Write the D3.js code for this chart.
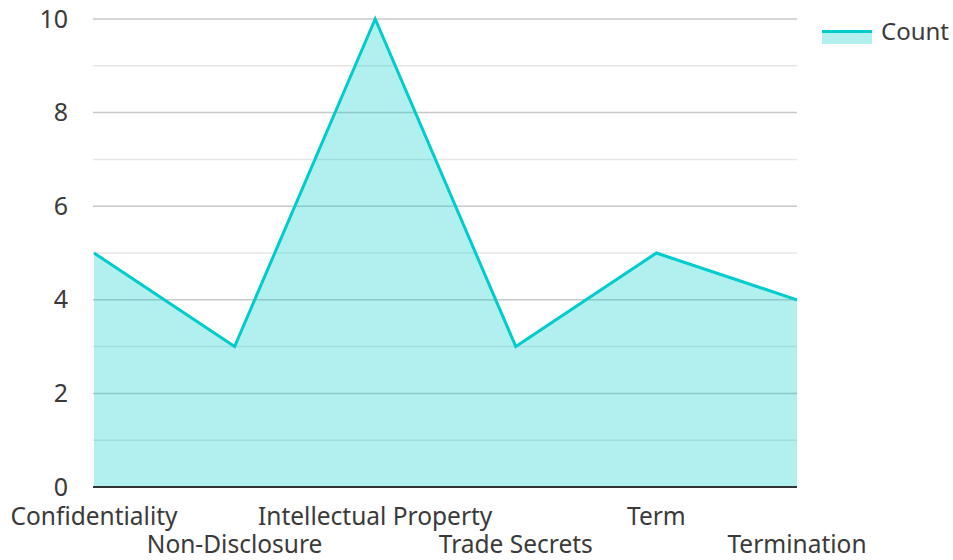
<!DOCTYPE html>
<html>
<head>
<meta charset="utf-8">
<script src="https://cdn.jsdelivr.net/npm/d3@7"></script>
<style>
  body { margin: 0; background: #fff; }
  text { font-family: "Noto Sans", sans-serif; fill: #3a3a3a; }
</style>
</head>
<body>
<svg id="canvas"></svg>
<script>
let categories = ['Confidentiality', 'Non-Disclosure', 'Intellectual Property', 'Trade Secrets', 'Term', 'Termination']
let counts = [5, 3, 10, 3, 5, 4]
let yTicks = [0, 2, 4, 6, 8, 10]
let seriesName = 'Count'

let width = 953
let height = 560
let plotLeft = 94
let plotRight = 797
let plotTop = 19
let plotBottom = 487

let lineColor = '#00cccc'

let canvas = d3.select('#canvas').attr('width', width).attr('height', height)

let xScale = d3.scalePoint().domain(categories).range([plotLeft, plotRight])
let yScale = d3.scaleLinear().domain([0, 10]).range([plotBottom, plotTop])

// gridlines, minor ones lighter
let grid = canvas.append('g')
d3.range(1, 11).forEach(v => {
  grid.append('line')
    .attr('x1', plotLeft - 1).attr('x2', plotRight)
    .attr('y1', yScale(v)).attr('y2', yScale(v))
    .attr('stroke', v % 2 === 0 ? '#c8c8c8' : '#e6e6e6')
    .attr('stroke-width', 1.5)
})

let area = d3.area()
  .x((d, i) => xScale(categories[i]))
  .y0(yScale(0))
  .y1(d => yScale(d))

let line = d3.line()
  .x((d, i) => xScale(categories[i]))
  .y(d => yScale(d))

canvas.append('path')
  .datum(counts)
  .attr('d', area)
  .attr('fill', lineColor)
  .attr('fill-opacity', 0.3)

canvas.append('path')
  .datum(counts)
  .attr('d', line)
  .attr('fill', 'none')
  .attr('stroke', lineColor)
  .attr('stroke-width', 3)

// x baseline
canvas.append('line')
  .attr('x1', plotLeft - 1).attr('x2', plotRight)
  .attr('y1', plotBottom).attr('y2', plotBottom)
  .attr('stroke', '#333').attr('stroke-width', 2)

// y labels
canvas.append('g')
  .selectAll('text')
  .data(yTicks)
  .enter()
  .append('text')
  .attr('x', 68)
  .attr('y', d => yScale(d) + 8.5)
  .attr('text-anchor', 'end')
  .style('font-size', '25px')
  .text(d => d)

// x labels, staggered
canvas.append('g')
  .selectAll('text')
  .data(categories)
  .enter()
  .append('text')
  .attr('x', d => xScale(d))
  .attr('y', (d, i) => i % 2 === 0 ? 524.5 : 553)
  .attr('text-anchor', 'middle')
  .style('font-size', '24.5px')
  .text(d => d)

// legend
let legend = canvas.append('g').attr('transform', 'translate(822,30)')
legend.append('rect')
  .attr('x', 0).attr('y', 0).attr('width', 50).attr('height', 14)
  .attr('fill', lineColor).attr('fill-opacity', 0.3)
legend.append('line')
  .attr('x1', 0).attr('x2', 50).attr('y1', 1.5).attr('y2', 1.5)
  .attr('stroke', lineColor).attr('stroke-width', 3)
legend.append('text')
  .attr('x', 59).attr('y', 10)
  .style('font-size', '24px')
  .text(seriesName)
</script>
</body>
</html>
